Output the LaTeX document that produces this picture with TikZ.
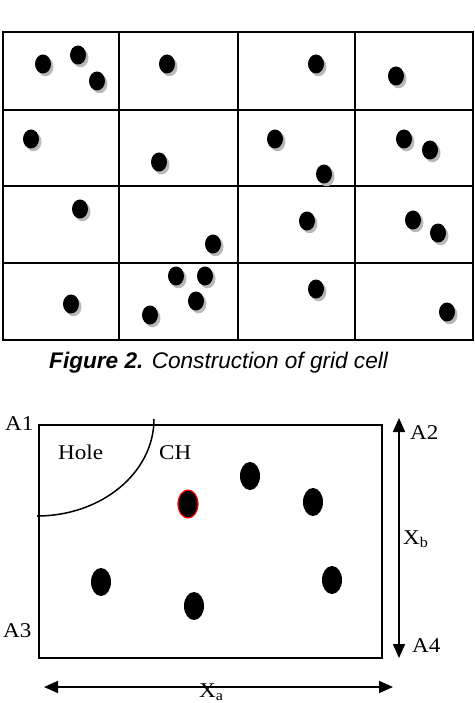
\documentclass[tikz,border=0pt]{standalone}
\usepackage{fontspec}
\setmainfont{Liberation Serif}
\newfontfamily\lblfont[FakeStretch=1.1]{Liberation Serif}
\newfontfamily\capfont{Liberation Sans}
\usetikzlibrary{shapes.geometric,shadows,arrows.meta}
\begin{document}
\begin{tikzpicture}[x=1pt,y=-1pt,
  gridline/.style={line width=2.2pt},
  gdot/.style={ellipse, fill=black, inner sep=0pt, minimum width=16pt, minimum height=19pt,
    drop shadow={shadow xshift=2.5pt, shadow yshift=-2.8pt, fill=black!28, opacity=1}},
  bdot/.style={ellipse, fill=black, inner sep=0pt, minimum width=20pt, minimum height=28pt},
  rdot/.style={bdot, draw=red, line width=1.2pt},
  lbl/.style={font=\lblfont\fontsize{21}{23}\selectfont, inner sep=0pt, anchor=base west},
  dimarrow/.style={line width=1.7pt, {Triangle[length=14pt,width=12pt]}-{Triangle[length=14pt,width=12pt]}},
  capt/.style={font=\capfont\itshape\fontsize{22.6}{26}\selectfont, inner sep=0pt, anchor=base west}
]
\useasboundingbox (0,0) rectangle (474,703);
% ---------- grid ----------
\draw[gridline] (3,32) rectangle (473,340);
\draw[gridline] (119,32) -- (119,340);
\draw[gridline] (238,32) -- (238,340);
\draw[gridline] (355,32) -- (355,340);
\draw[gridline] (3,110) -- (473,110);
\draw[gridline] (3,186) -- (473,186);
\draw[gridline] (3,263) -- (473,263);
% row 1
\node[gdot] (g1) at (43,64) {};
\node[gdot] (g2) at (78,55) {};
\node[gdot] (g3) at (97,81) {};
\node[gdot] (g4) at (167,64) {};
\node[gdot] (g5) at (316,64) {};
\node[gdot] (g6) at (396,76) {};
% row 2
\node[gdot] (g7) at (31,139) {};
\node[gdot] (g8) at (159,162) {};
\node[gdot] (g9) at (275,139) {};
\node[gdot] (g10) at (324,174) {};
\node[gdot] (g11) at (404,139) {};
\node[gdot] (g12) at (430,150) {};
% row 3
\node[gdot] (g13) at (80,209) {};
\node[gdot] (g14) at (213,244) {};
\node[gdot] (g15) at (307,221) {};
\node[gdot] (g16) at (413,220) {};
\node[gdot] (g17) at (438,233) {};
% row 4
\node[gdot] (g18) at (71,304) {};
\node[gdot] (g19) at (176,276) {};
\node[gdot] (g20) at (205,276) {};
\node[gdot] (g21) at (196,301) {};
\node[gdot] (g22) at (150,315) {};
\node[gdot] (g23) at (316,289) {};
\node[gdot] (g24) at (447,312) {};
% caption
\node[capt] (cap) at (49,368) {\textbf{Figure 2.} Construction of grid cell};
% ---------- lower diagram ----------
\draw[line width=1.5pt] (39,425) rectangle (382,658);
\draw[line width=1.5pt] (154,419) .. controls (154,472.6) and (101.6,516) .. (37,516);
\node[bdot] (b1) at (250,476) {};
\node[bdot] (b2) at (313,502) {};
\node[rdot] (b3) at (188,504) {};
\node[bdot] (b4) at (101,582) {};
\node[bdot] (b5) at (194,606) {};
\node[bdot] (b6) at (332,580) {};
% dimension arrows
\coordinate (vt) at (399,418);
\coordinate (vb) at (399,658);
\draw[dimarrow] (vt) -- (vb);
\coordinate (hl) at (44,687);
\coordinate (hr) at (393,687);
\draw[dimarrow] (hl) -- (hr);
% labels
\node[lbl] (a1) at (5,430) {A1};
\node[lbl] (a2) at (410,439) {A2};
\node[lbl] (a3) at (3,637) {A3};
\node[lbl] (a4) at (412,652) {A4};
\node[lbl] (hole) at (58,459) {Hole};
\node[lbl] (ch) at (159,459) {CH};
\node[lbl] (xb) at (403,544) {X\textsubscript{b}};
\node[lbl] (xa) at (199,697) {X\textsubscript{a}};
\end{tikzpicture}
\end{document}
